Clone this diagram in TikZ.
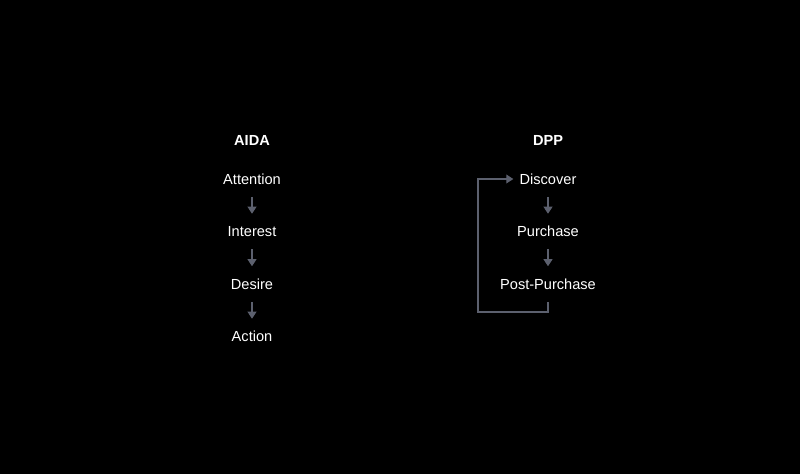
\documentclass[tikz,border=0pt]{standalone}
\usepackage{fontspec}
\setmainfont{Liberation Sans}
\usetikzlibrary{arrows.meta, positioning}
\definecolor{flowgray}{RGB}{92,96,110}

\begin{document}
\begin{tikzpicture}[x=0.02cm, y=-0.02cm,
    stage/.style={text=white, font=\fontsize{8.3}{10}\selectfont, text height=6pt, text depth=0pt, inner xsep=3.4pt, inner ysep=6.9pt},
    title/.style={stage, font=\fontsize{8.3}{10}\selectfont\bfseries},
    flow/.style={draw=flowgray, line width=0.75pt, -{Triangle[length=4pt,width=5pt]}}]
\fill[black] (0,0) rectangle (800,474);
\useasboundingbox (0,0) rectangle (800,474);

\node[title] (aida) at (252,140) {AIDA};
\node[stage] (att) at (252,179) {Attention};
\node[stage] (int) at (252,231.5) {Interest};
\node[stage] (des) at (252,284) {Desire};
\node[stage] (act) at (252,336.5) {Action};
\foreach \a/\b in {att/int, int/des, des/act}
  \draw[flow] (\a) -- (\b);

\node[title] (dpp) at (548,140) {DPP};
\node[stage] (disc) at (548,179) {Discover};
\node[stage] (purch) at (548,231.5) {Purchase};
\node[stage] (post) at (548,284) {Post-Purchase};
\foreach \a/\b in {disc/purch, purch/post}
  \draw[flow] (\a) -- (\b);
\coordinate (loop) at (478,312);
\draw[flow] (post.south) |- (loop) |- (disc.west);
\end{tikzpicture}
\end{document}
